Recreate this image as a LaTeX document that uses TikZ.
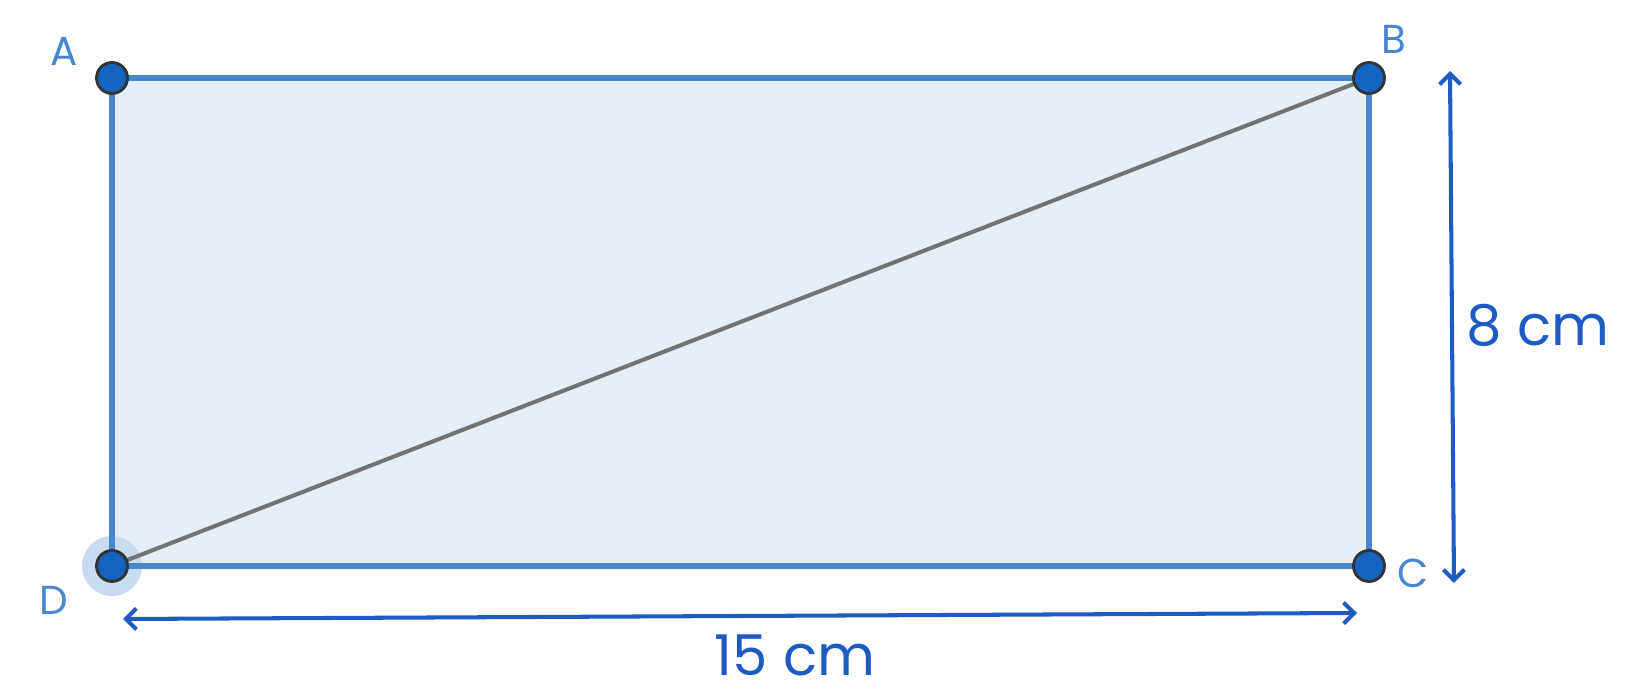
\documentclass[tikz,border=0pt]{standalone}
\usepackage{fontspec}
\setmainfont{Poppins}
\usepackage{xcolor}
\usepackage{tikz}
\usetikzlibrary{calc, arrows.meta, positioning}

\definecolor{edgeblue}{HTML}{4A86D0}
\definecolor{fillblue}{HTML}{E6EEF8}
\definecolor{dotblue}{HTML}{1565C0}
\definecolor{dimblue}{HTML}{1D5BC2}
\definecolor{labelblue}{HTML}{4A86D0}

\begin{document}
\begin{tikzpicture}[
            vertex/.style={circle, draw=black!80, fill=dotblue, line width=1.6pt, minimum size=0.62cm, inner sep=0pt},
            halo/.style={circle, fill=edgeblue!30, minimum size=1.2cm, inner sep=0pt},
            side/.style={line width=3.6pt, draw=edgeblue},
            diag/.style={line width=2.3pt, draw=black!55},
            dim/.style={line width=2.3pt, draw=dimblue, {Straight Barb[length=6pt, width=12pt]}-{Straight Barb[length=6pt, width=12pt]}},
            letter/.style={text=labelblue, font=\fontsize{23}{23}\selectfont},
            measure/.style={text=dimblue, font=\fontsize{32}{32}\selectfont}
        ]

        \useasboundingbox (0,0) rectangle (32.58,13.86);

        % Corners (manual layout to match figure)
        \coordinate (a) at (2.24, 12.30);
        \coordinate (b) at (27.38, 12.30);
        \coordinate (c) at (27.38, 2.54);
        \coordinate (d) at (2.24, 2.54);

        % Rectangle and diagonal
        \fill[fillblue] (a) -- (b) -- (c) -- (d) -- cycle;
        \node[halo] at (d) {};
        \draw[side] (a) -- (b) -- (c) -- (d) -- cycle;
        \draw[diag] (d) -- (b);

        % Points
        \node[vertex] (A) at (a) {};
        \node[vertex] (B) at (b) {};
        \node[vertex] (C) at (c) {};
        \node[vertex] (D) at (d) {};

        \node[letter] (lA) at (1.28, 12.82) {A};
        \node[letter] (lB) at (27.88, 13.08) {B};
        \node[letter] (lC) at (28.26, 2.40) {C};
        \node[letter] (lD) at (1.08, 1.86) {D};

        % Measures
        \coordinate (h1) at (2.46, 1.48);
        \coordinate (h2) at (27.14, 1.60);
        \coordinate (v1) at (29.00, 12.44);
        \coordinate (v2) at (29.08, 2.20);

        \draw[dim] (h1) -- (h2);
        \draw[dim] (v1) -- (v2);

        \node[measure] (len) at (15.90, 0.76) {15 cm};
        \node[measure] (wid) at (30.76, 7.36) {8 cm};

    \end{tikzpicture}
\end{document}
